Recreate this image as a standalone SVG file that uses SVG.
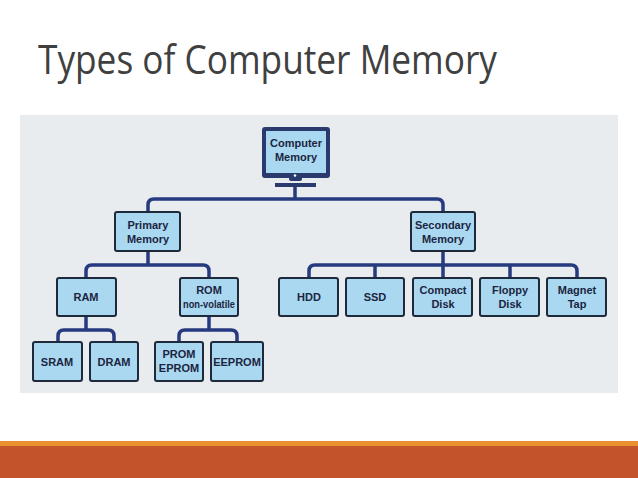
<svg xmlns="http://www.w3.org/2000/svg" width="638" height="478" viewBox="0 0 638 478">
<style>
.n{fill:#a9d8f0;stroke:#1e2a3a;stroke-width:2}
.t{font-family:"Liberation Sans",sans-serif;font-weight:bold;font-size:11px;fill:#1c2540;text-anchor:middle}
.c{fill:none;stroke:#263a80;stroke-width:3.5;stroke-linejoin:round}
</style>
<rect width="638" height="478" fill="#fff"/>
<text x="38" y="74" font-family="Open Sans, Liberation Sans, sans-serif" font-weight="400" font-size="40" fill="#404040" textLength="459" lengthAdjust="spacingAndGlyphs">Types of Computer Memory</text>
<rect x="20" y="115" width="598" height="278" fill="#e9ecef"/>
<g id="connectors" class="c">
<path d="M295 187V199M148 212V205Q148 199 154 199H437Q443 199 443 205V212"/>
<path d="M148 251V265M86 278V271Q86 265 92 265H203Q209 265 209 271V278"/>
<path d="M86 316V330M58 342V336Q58 330 64 330H108Q114 330 114 336V342"/>
<path d="M209 316V330M179 342V336Q179 330 185 330H231Q237 330 237 336V342"/>
<path d="M443 251V265M309 278V271Q309 265 315 265H571Q577 265 577 271V278M375 265V278M443 265V278M510 265V278"/>
</g>
<g id="computer">
<rect x="262" y="127" width="68" height="51" rx="3" fill="#2a3a6e"/>
<rect x="266" y="131" width="60" height="42" fill="#a9d8f0"/>
<rect x="289" y="175" width="13" height="6" rx="2" fill="#2a3a6e"/>
<circle cx="295" cy="175.5" r="1.3" fill="#fff"/>
<rect x="275" y="183" width="41" height="4" fill="#2a3a6e"/>
<text class="t" x="296" y="147">Computer</text><text class="t" x="296" y="161">Memory</text>
</g>
<g id="primary"><rect class="n" x="115" y="212" width="65" height="39" rx="2"/><text class="t" x="148" y="229">Primary</text><text class="t" x="148" y="243">Memory</text></g>
<g id="secondary"><rect class="n" x="411" y="212" width="64" height="39" rx="2"/><text class="t" x="443" y="229">Secondary</text><text class="t" x="443" y="243">Memory</text></g>
<g id="ram"><rect class="n" x="57" y="278" width="59" height="38" rx="2"/><text class="t" x="86" y="301">RAM</text></g>
<g id="rom"><rect class="n" x="180" y="278" width="58" height="38" rx="2"/><text class="t" x="209" y="294">ROM</text><text class="t" x="209" y="308" font-size="8" textLength="52" lengthAdjust="spacingAndGlyphs">non-volatile</text></g>
<g id="sram"><rect class="n" x="33" y="342" width="49" height="39" rx="2"/><text class="t" x="57" y="366">SRAM</text></g>
<g id="dram"><rect class="n" x="90" y="342" width="48" height="39" rx="2"/><text class="t" x="114" y="366">DRAM</text></g>
<g id="prom"><rect class="n" x="155" y="342" width="48" height="39" rx="2"/><text class="t" x="179" y="358">PROM</text><text class="t" x="179" y="372">EPROM</text></g>
<g id="eeprom"><rect class="n" x="211" y="342" width="52" height="39" rx="2"/><text class="t" x="237" y="366" font-size="10.5">EEPROM</text></g>
<g id="hdd"><rect class="n" x="279" y="278" width="59" height="38" rx="2"/><text class="t" x="309" y="301">HDD</text></g>
<g id="ssd"><rect class="n" x="346" y="278" width="58" height="38" rx="2"/><text class="t" x="375" y="301">SSD</text></g>
<g id="cd"><rect class="n" x="413" y="278" width="59" height="38" rx="2"/><text class="t" x="443" y="294">Compact</text><text class="t" x="443" y="308">Disk</text></g>
<g id="floppy"><rect class="n" x="480" y="278" width="59" height="38" rx="2"/><text class="t" x="510" y="294">Floppy</text><text class="t" x="510" y="308">Disk</text></g>
<g id="magnet"><rect class="n" x="547" y="278" width="59" height="38" rx="2"/><text class="t" x="577" y="294">Magnet</text><text class="t" x="577" y="308">Tap</text></g>
<rect x="0" y="441" width="638" height="5" fill="#e8912e"/>
<rect x="0" y="446" width="638" height="32" fill="#c2532a"/>
</svg>
